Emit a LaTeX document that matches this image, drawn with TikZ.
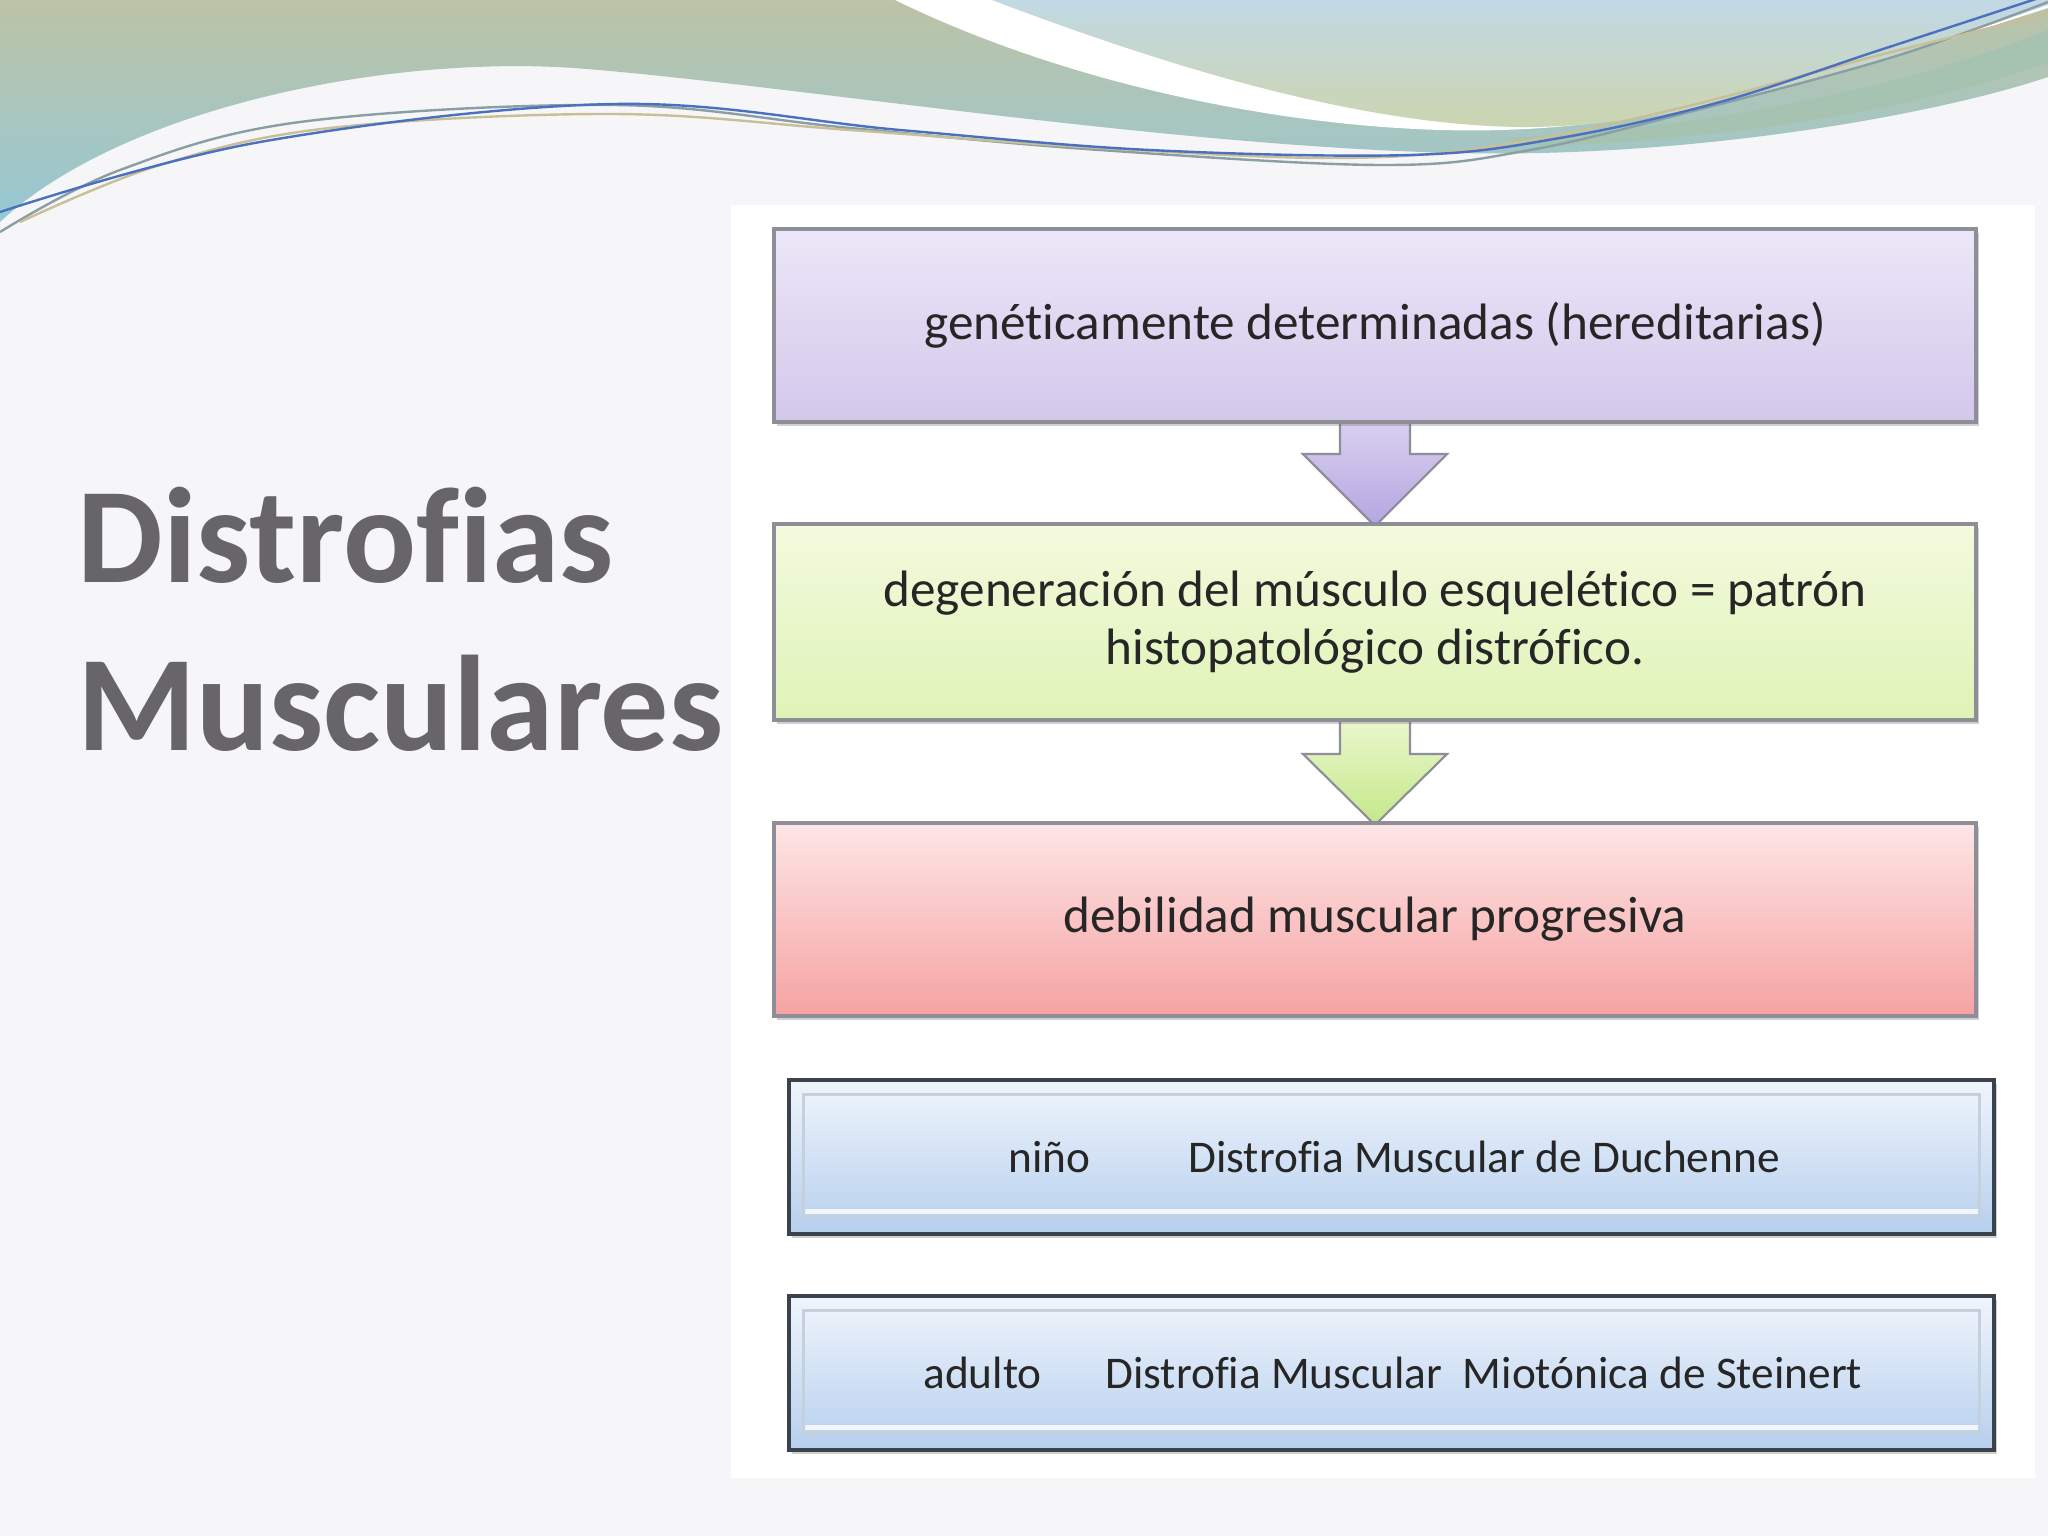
\documentclass[tikz,border=0pt]{standalone}
\usepackage{fontspec}
\setmainfont[Ligatures=NoCommon]{Carlito}
\usetikzlibrary{calc,shadows}
\definecolor{bgc}{HTML}{F6F6F8}
\definecolor{tealtop}{HTML}{BCC3A6}
\definecolor{tealbot}{HTML}{96C8D4}
\definecolor{urtop}{HTML}{C2D8E4}
\definecolor{urbot}{HTML}{CBD5B0}
\definecolor{greenrib}{HTML}{A6C2B0}
\definecolor{lineblue}{HTML}{4A70C0}
\definecolor{linegray}{HTML}{8A9EA4}
\definecolor{linegold}{HTML}{C8BE98}
\definecolor{boxone}{HTML}{ECE7F8}
\definecolor{boxonebot}{HTML}{D3C7EB}
\definecolor{boxtwo}{HTML}{F3FADE}
\definecolor{boxtwobot}{HTML}{DFF3B6}
\definecolor{boxthree}{HTML}{FEE6E6}
\definecolor{boxthreebot}{HTML}{F6A2A2}
\definecolor{arrowonetop}{HTML}{DDD4F2}
\definecolor{arrowonebot}{HTML}{B5A5E0}
\definecolor{arrowtwotop}{HTML}{EEF8D4}
\definecolor{arrowtwobot}{HTML}{C4E888}
\definecolor{bluetop}{HTML}{F0F5FC}
\definecolor{bluebot}{HTML}{B6CFEE}
\definecolor{blueborder}{HTML}{3A424C}
\definecolor{innerframe}{HTML}{C4D0DC}
\definecolor{boxborder}{HTML}{8E8E98}
\definecolor{txt}{HTML}{262626}
\definecolor{titlegray}{HTML}{676569}
\tikzset{
  flowbox/.style={draw=boxborder, line width=1.2pt, minimum width=450.75pt,
    align=center, text=txt, font=\fontsize{19.2}{22}\selectfont,
    drop shadow={shadow xshift=1.2pt, shadow yshift=-1.5pt, opacity=0.3, fill=black!60}},
  bluebox/.style={draw=blueborder, line width=1.3pt, minimum width=451.9pt,
    minimum height=57.75pt, top color=bluetop, bottom color=bluebot,
    drop shadow={shadow xshift=1.2pt, shadow yshift=-1.5pt, opacity=0.3, fill=black!60}},
  bluetext/.style={anchor=west, text=txt, font=\fontsize{17}{21}\selectfont},
  flowarrow/.style={draw=boxborder, line width=0.8pt},
  titletext/.style={anchor=base west, text=titlegray, font=\fontsize{51}{60}\selectfont\bfseries},
  waveline/.style={line width=0.9pt}
}
\begin{document}
\begin{tikzpicture}[x=0.375pt,y=-0.375pt]
\useasboundingbox (0,0) rectangle (2048,1536);
\fill[bgc] (0,0) rectangle (2048,1536);
\fill[white] (731,205) rectangle (2035,1478);

% top wave decoration
\shade[top color=tealtop, bottom color=tealbot]
  (0,0) -- (0,222) .. controls (120,110) and (380,55) .. (574,68)
  .. controls (800,85) and (1250,160) .. (1540,153)
  .. controls (1750,148) and (1950,110) .. (2048,77) -- (2048,0) -- cycle;
\fill[greenrib] (1500,138) .. controls (1750,128) and (1950,70) .. (2048,30)
  -- (2048,62) .. controls (1950,100) and (1750,140) .. (1540,146) -- cycle;
\fill[white] (895,0) .. controls (1090,95) and (1330,135) .. (1500,130)
  .. controls (1700,125) and (1900,55) .. (2048,8) -- (2048,0) -- cycle;
\shade[top color=urtop, bottom color=urbot]
  (992,0) .. controls (1150,60) and (1350,125) .. (1520,127)
  .. controls (1700,128) and (1900,55) .. (2048,5) -- (2048,0) -- cycle;
\draw[waveline, linegray] plot[smooth, tension=0.6] coordinates
  {(0,232) (120,170) (300,122) (614,105) (850,128) (1100,150) (1384,165) (1530,150) (1697,110) (1893,57) (2048,2)};
\draw[waveline, linegold] plot[smooth, tension=0.6] coordinates
  {(20,222) (160,165) (330,128) (614,114) (850,130) (1100,148) (1340,158) (1500,145) (1680,108) (1880,55) (2048,14)};
\draw[waveline, lineblue] plot[smooth, tension=0.6] coordinates
  {(0,212) (260,142) (614,104) (900,130) (1150,150) (1410,155) (1560,138) (1720,102) (1880,50) (2048,-5)};

% title
\node[titletext] (t1) at (68,582) {Distrofias};
\node[titletext] (t2) at (68,750) {Musculares};

% arrows (drawn first so the boxes cover the stems)
\coordinate (b1s) at (1375,422);
\coordinate (b2n) at (1375,524);
\coordinate (b2s) at (1375,720);
\coordinate (b3n) at (1375,823);
\shadedraw[flowarrow, top color=arrowonetop, bottom color=arrowonebot]
  ($(b1s)+(-35,-10)$) -- ($(b1s)+(-35,32)$) -- ($(b1s)+(-72,32)$) -- ($(b2n)+(0,2)$)
  -- ($(b1s)+(72,32)$) -- ($(b1s)+(35,32)$) -- ($(b1s)+(35,-10)$) -- cycle;
\shadedraw[flowarrow, top color=arrowtwotop, bottom color=arrowtwobot]
  ($(b2s)+(-35,-10)$) -- ($(b2s)+(-35,34)$) -- ($(b2s)+(-72,34)$) -- ($(b3n)+(0,2)$)
  -- ($(b2s)+(72,34)$) -- ($(b2s)+(35,34)$) -- ($(b2s)+(35,-10)$) -- cycle;

% flow boxes
\node[flowbox, minimum height=72.4pt, top color=boxone, bottom color=boxonebot] (b1) at (1375,325.5)
  {genéticamente determinadas (hereditarias)};
\node[flowbox, minimum height=73.5pt, top color=boxtwo, bottom color=boxtwobot] (b2) at (1375,622)
  {degeneración del músculo esquelético = patrón\\histopatológico distrófico.};
\node[flowbox, minimum height=72.4pt, top color=boxthree, bottom color=boxthreebot] (b3) at (1375,919.5)
  {debilidad muscular progresiva};

% blue boxes
\node[bluebox] (b4) at (1391.5,1157) {};
\node[bluebox] (b5) at (1391.5,1373) {};
\foreach \b in {b4,b5}{
  \draw[innerframe, line width=1.2pt] ($(\b.north west)+(16,16)$) rectangle ($(\b.south east)+(-16,-19)$);
  \draw[white, line width=2pt, opacity=0.8] ($(\b.south west)+(18,-24)$) -- ($(\b.south east)+(-18,-24)$);
}
\node[bluetext] (n1) at (999,1157) {niño};
\node[bluetext] (d1) at (1179,1157) {Distrofia Muscular de Duchenne};
\node[bluetext] (n2) at (914,1373) {adulto};
\node[bluetext] (d2) at (1096,1373) {Distrofia Muscular\ \ Miotónica de Steinert};
\end{tikzpicture}
\end{document}
